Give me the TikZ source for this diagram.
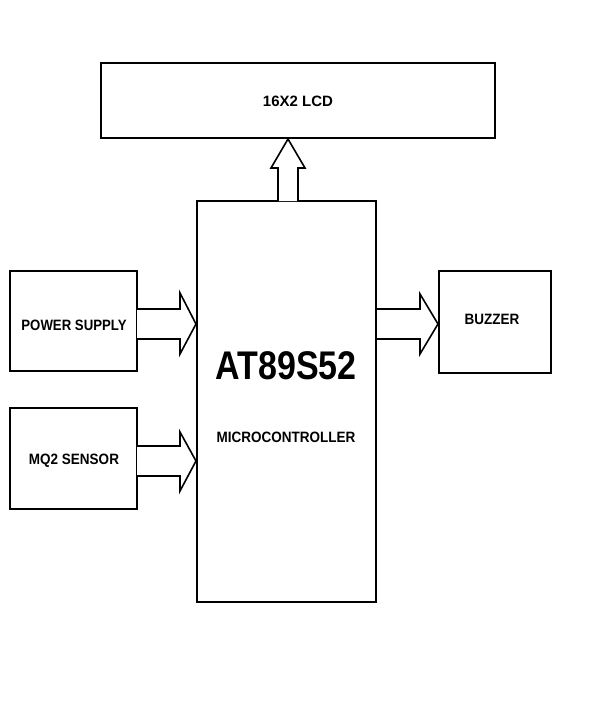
\documentclass[tikz,border=0pt]{standalone}
\usepackage{fontspec}
\setmainfont{Liberation Sans}
\begin{document}
\begin{tikzpicture}[x=1pt,y=-1pt,
  blk/.style={draw,line width=1.6pt},
  lbl/.style={font=\bfseries\fontsize{15}{17}\selectfont},
  barrow/.style={draw,line width=1.6pt,fill=white,line join=miter}]
\useasboundingbox (0,0) rectangle (611,709);
\draw[blk] (101,63) rectangle (495,138);
\node[lbl] (lcd) at (298,101) {16X2 LCD};
\draw[blk] (197,201) rectangle (376,602);
\node[font=\bfseries\fontsize{40}{44}\selectfont,xscale=0.85] (at) at (286,366) {AT89S52};
\node[lbl,xscale=0.9] (mc) at (286,437) {MICROCONTROLLER};
\draw[blk] (10,271) rectangle (137,371);
\node[lbl,xscale=0.88] (ps) at (74,325) {POWER SUPPLY};
\draw[blk] (10,408) rectangle (137,509);
\node[lbl,xscale=0.9] (mq) at (74,461) {MQ2 SENSOR};
\draw[blk] (439,271) rectangle (551,373);
\node[lbl,xscale=0.9] (bz) at (492,319) {BUZZER};
% up arrow
\draw[barrow] (278,201) -- (278,168) -- (271,168) -- (288,139) -- (305,168) -- (298,168) -- (298,201);
% power arrow
\draw[barrow] (137,309) -- (180,309) -- (180,293) -- (196,324) -- (180,354) -- (180,339) -- (137,339);
% mq2 arrow
\draw[barrow] (137,446) -- (180,446) -- (180,432) -- (196,461) -- (180,491) -- (180,476) -- (137,476);
% buzzer arrow
\draw[barrow] (377,309) -- (420,309) -- (420,294) -- (438,324) -- (420,354) -- (420,339) -- (377,339);
\end{tikzpicture}
\end{document}
